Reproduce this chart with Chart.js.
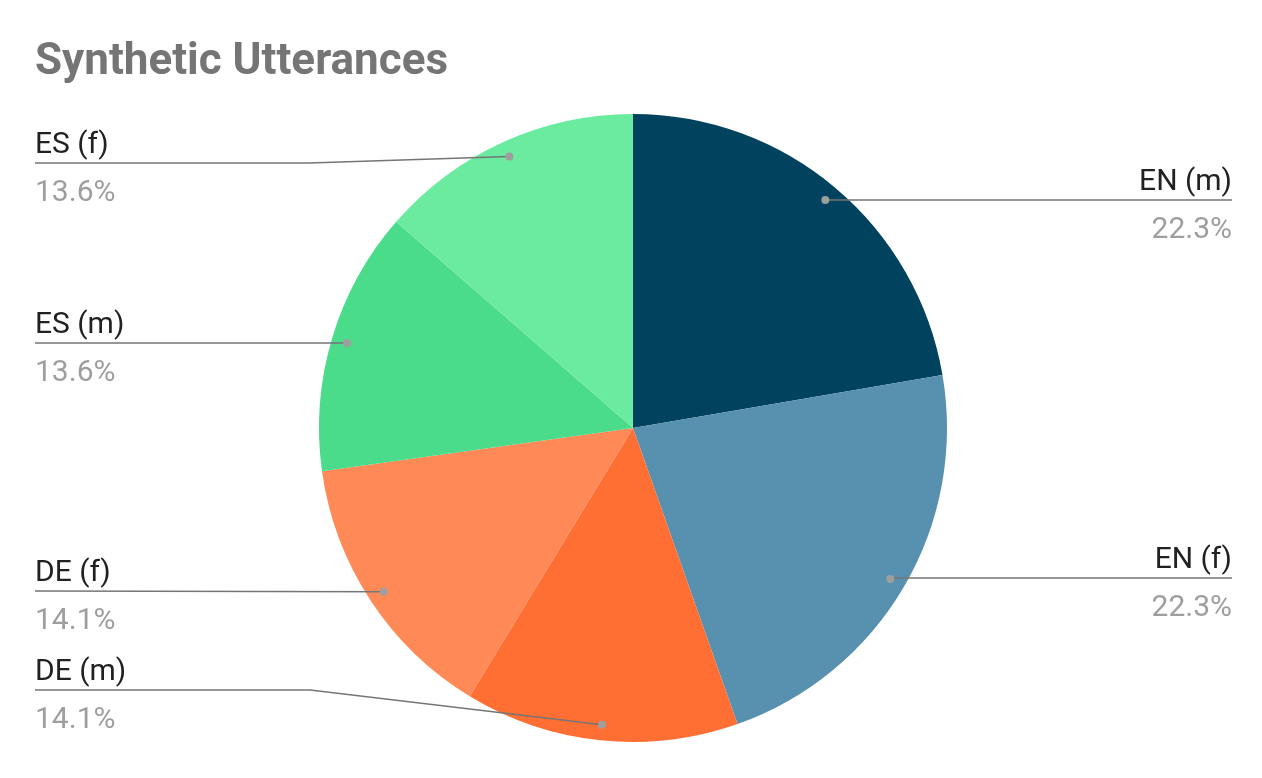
<!DOCTYPE html>
<html>
<head>
<meta charset="utf-8">
<script src="https://cdn.jsdelivr.net/npm/chart.js@4"></script>
<style>
  html, body { margin: 0; padding: 0; background: #fff; }
  #wrap { width: 1262px; height: 778px; }
</style>
</head>
<body>
<div id="wrap"><canvas id="pieChart"></canvas></div>
<script>
const labels = ["EN (m)", "EN (f)", "DE (m)", "DE (f)", "ES (m)", "ES (f)"];
const values = [22.3, 22.3, 14.1, 14.1, 13.6, 13.6];
const colors = ["#01435f", "#5891af", "#ff6e33", "#ff8a57", "#4adb8b", "#6beb9f"];

// label line heights (layout only), null = level with the dot
const labelRowY = [null, 578, 690, 591, null, 163];

const leaderLabels = {
  id: "leaderLabels",
  afterDraw(chart) {
    const ctx = chart.ctx;
    const meta = chart.getDatasetMeta(0);
    const total = values.reduce((a, b) => a + b, 0);
    ctx.save();
    // title
    ctx.fillStyle = "#757575";
    ctx.font = "bold 44px Roboto, Arial, sans-serif";
    ctx.textBaseline = "alphabetic";
    ctx.textAlign = "left";
    ctx.fillText("Synthetic Utterances", 35, 74);

    meta.data.forEach((arc, i) => {
      const mid = (arc.startAngle + arc.endAngle) / 2;
      const r = arc.outerRadius * 0.95;
      const dx = arc.x + Math.cos(mid) * r;
      const dy = arc.y + Math.sin(mid) * r;
      const right = Math.cos(mid) > 0;
      const ly = labelRowY[i] === null ? dy : labelRowY[i];
      const edge = right ? 1232 : 35;
      const elbow = right ? dx + (dx - arc.x) * 0.0 : Math.min(dx - 200, 310);

      ctx.strokeStyle = "#757575";
      ctx.lineWidth = 1.5;
      ctx.beginPath();
      ctx.moveTo(dx, dy);
      if (Math.abs(ly - dy) > 1) ctx.lineTo(right ? dx : elbow, ly);
      ctx.lineTo(edge, ly);
      ctx.stroke();

      ctx.fillStyle = "#9e9e9e";
      ctx.beginPath();
      ctx.arc(dx, dy, 4, 0, Math.PI * 2);
      ctx.fill();

      ctx.textAlign = right ? "right" : "left";
      ctx.font = "30px Roboto, Arial, sans-serif";
      ctx.fillStyle = "#212121";
      ctx.fillText(labels[i], edge, ly - 10);
      ctx.fillStyle = "#9e9e9e";
      ctx.fillText((values[i] / total * 100).toFixed(1) + "%", edge, ly + 38);
    });
    ctx.restore();
  }
};

new Chart(document.getElementById("pieChart").getContext("2d"), {
  type: "pie",
  data: {
    labels: labels,
    datasets: [{
      data: values,
      backgroundColor: colors,
      borderWidth: 0
    }]
  },
  options: {
    responsive: true,
    maintainAspectRatio: false,
    animation: false,
    radius: 314,
    layout: { padding: { top: 78, bottom: 0, left: 4, right: 0 } },
    plugins: {
      legend: { display: false },
      tooltip: { enabled: false }
    }
  },
  plugins: [leaderLabels]
});
</script>
</body>
</html>
